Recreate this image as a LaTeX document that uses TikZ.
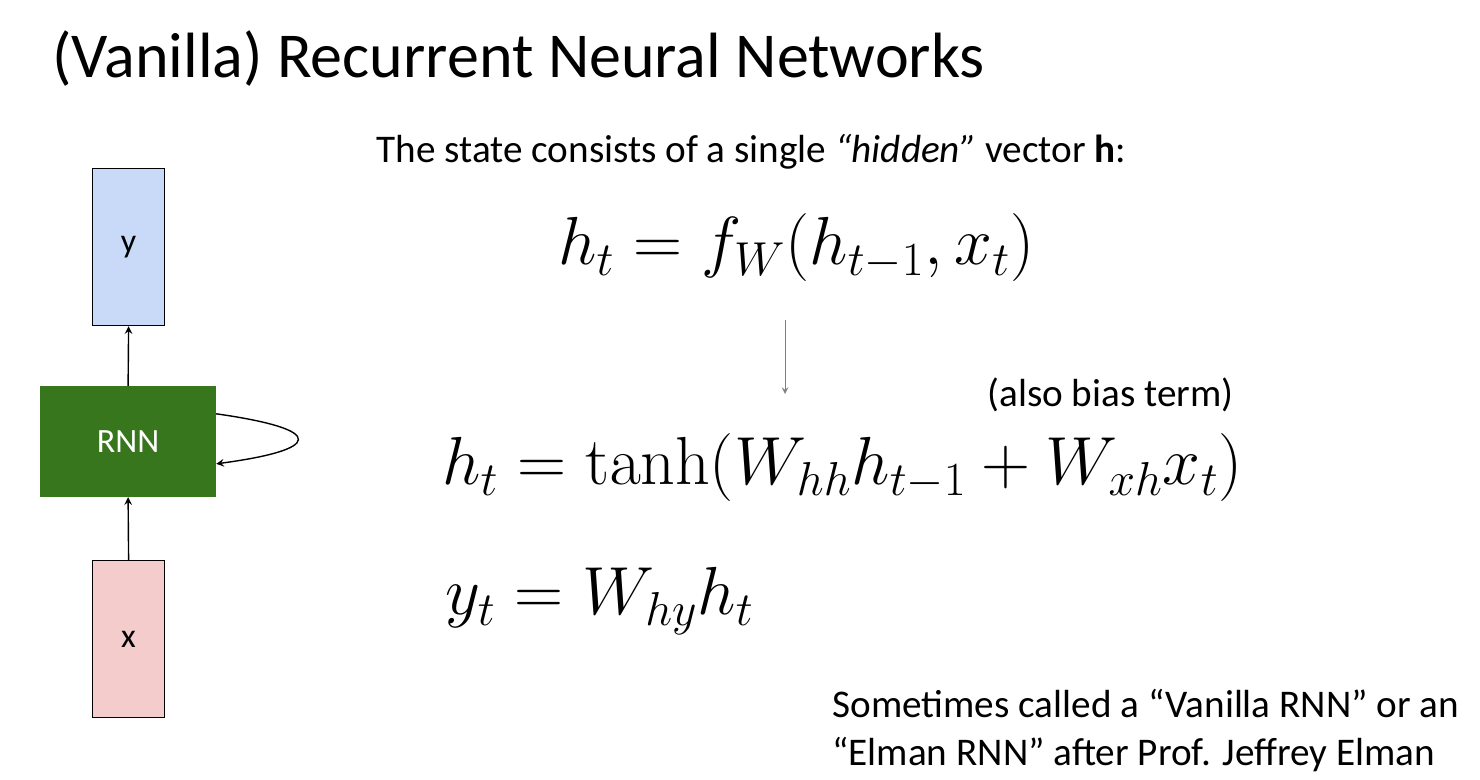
\RequirePackage{fix-cm}
\documentclass[tikz,border=0pt]{standalone}
\usetikzlibrary{calc}
\usepackage{amsmath}
\usepackage[no-math]{fontspec}
\setmainfont{Carlito}
\definecolor{ybox}{HTML}{C9DAF8}
\definecolor{xbox}{HTML}{F4CCCC}
\definecolor{rnn}{HTML}{38761D}
\begin{document}
\begin{tikzpicture}[x=0.5pt,y=-0.5pt,
  box/.style={draw=black,line width=0.6pt,inner sep=0,anchor=north west},
  arr/.style={-stealth,line width=0.7pt},
  eq/.style={inner sep=0,font=\fontsize{34}{40}\selectfont},
  txt/.style={inner sep=0,anchor=base west,font=\fontsize{19.6}{22}\selectfont}]
\useasboundingbox (0,0) rectangle (1480,780);
\node[anchor=base west,inner sep=0,font=\fontsize{32}{36}\selectfont] (title) at (52,78) {(Vanilla) Recurrent Neural Networks};
\node[box,fill=ybox,minimum width=36pt,minimum height=78.5pt] (y) at (92,168) {};
\node[font=\fontsize{17}{18}\selectfont] at (y.center) {y};
\node[box,fill=rnn,draw=rnn,minimum width=87.5pt,minimum height=55pt] (r) at (40,386) {};
\node[text=white,font=\fontsize{17}{18}\selectfont] at (r.center) {RNN};
\node[box,fill=xbox,minimum width=36pt,minimum height=78.5pt] (x) at (92,560) {};
\node[font=\fontsize{17}{18}\selectfont] at (x.center) {x};
\draw[arr] (x.north) -- (r.south);
\draw[arr] (r.north) -- (y.south);
\coordinate (l1) at ($(r.north east)!0.25!(r.south east)$);
\coordinate (l2) at ($(r.north east)!0.7!(r.south east)$);
\draw[arr] (l1) .. controls (330,430) and (320,450) .. (l2);
\node[txt] (s) at (376,163) {The state consists of a single \textit{“hidden”} vector \textbf{h}:};
\node[eq,anchor=base west] (e1) at (558,265) {$h_t = f_W(h_{t-1}, x_t)$};
\coordinate (a1) at (785,320); \coordinate (a2) at (785,394);
\draw[-stealth,gray,line width=0.5pt] (a1) -- (a2);
\node[txt] (b) at (987,407) {(also bias term)};
\node[eq,anchor=base west] (e2) at (442,485) {$h_t = \tanh(W_{hh}h_{t-1} + W_{xh}x_t)$};
\node[eq,anchor=base west] (e3) at (445,615) {$y_t = W_{hy}h_t$};
\node[txt] (n1) at (832,718) {Sometimes called a “Vanilla RNN” or an};
\node[txt] (n2) at (832,766) {“Elman RNN” after Prof. Jeffrey Elman};
\end{tikzpicture}
\end{document}
